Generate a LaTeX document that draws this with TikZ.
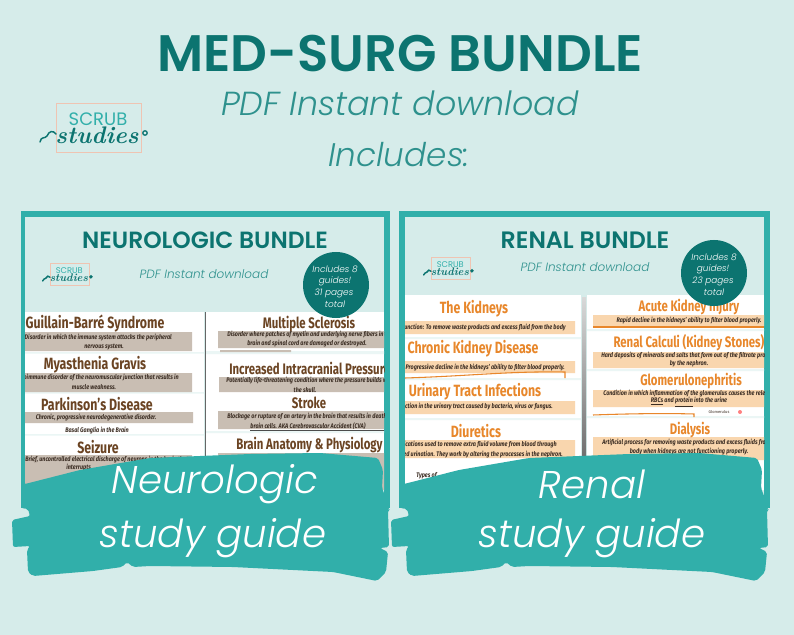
\documentclass[tikz,border=0pt]{standalone}
\usepackage{fontspec}
\setmainfont{Fira Sans}
\newfontfamily\pop{Poppins SemiBold}
\newfontfamily\popr{Poppins}
\newfontfamily\popl{Poppins Light}[ItalicFont={Poppins Light Italic}]
\definecolor{bgc}{HTML}{D6ECEA}
\definecolor{dteal}{HTML}{0C7470}
\definecolor{frame}{HTML}{31AFAA}
\definecolor{midt}{HTML}{2E918D}
\definecolor{gband}{HTML}{C9BEB3}
\definecolor{brownc}{HTML}{6B4423}
\definecolor{oband}{HTML}{F9D6AE}
\definecolor{orangec}{HTML}{E8872B}
\definecolor{inkc}{HTML}{3C2E24}
\definecolor{peach}{HTML}{EFC4B2}
\newcommand\tn[1]{\scalebox{.76}[1]{#1}}
\newcommand\tm[1]{\scalebox{.75}[1]{#1}}
\newcommand\bt[1]{\scalebox{.82}[1]{#1}}
\newcommand\ctitle[5]{\node[text=#5,inner sep=0pt,font=\bfseries\fontsize{#1}{#1}\selectfont] at #2 (#3) {\tn{#4}};}
\newcommand\ctitleb[4]{\node[text=#4,inner sep=0pt,font=\bfseries\fontsize{11.4}{11.4}\selectfont] at #1 (#2) {\tm{#3}};}
\tikzset{bodyt/.style={text=inkc,font=\itshape\bfseries\fontsize{5}{5}\selectfont,inner sep=0pt},
  infot/.style={text=white,font=\popl\itshape\fontsize{6.7}{6.7}\selectfont,inner sep=0pt},
  bigt/.style={text=white,font=\popl\itshape\fontsize{29}{29}\selectfont,inner sep=0pt}}
\newcommand\logo[3]{\begin{scope}[shift={#2},scale=#3,transform shape]
  \draw[peach,line width=.7pt] (0,0) rectangle (85,49);
  \node[text=frame,font=\popr\fontsize{13.5}{13.5}\selectfont,inner sep=0pt] (#1s) at (42,16) {SCRUB};
  \node[text=dteal,font=\fontspec{Latin Modern Roman}\itshape\bfseries\fontsize{18}{18}\selectfont,inner sep=0pt] (#1t) at (41,32) {studies};
  \draw[dteal,line width=1.1pt,line cap=round] (-16,39) .. controls (-15,33) and (-11,36) .. (-9,33) .. controls (-7,28) and (-3,27) .. (0,31);
  \draw[dteal,line width=1pt] (89,30) circle (2.2);
\end{scope}}
\newcommand\brush[1]{\fill[frame,shift={(#1,0)},rounded corners=1.5pt]
 (21,484)--(25,484)--(80,470)--(150,458)--(250,454)--(320,453)--(378,458)--(383,470)--(382,488)--(390,509)--(388,510)--(389,547)--(380,548)--(388,552)--(386,572)--(377,581)--(333,572)--(233,567)--(150,566)--(133,567)--(127,562)--(122,567)--(93,571)--(33,576)--(28,572)--(27,550)--(30,546)--(13,547)--(12,520)--(30,516)--(28,509)--(21,508)--cycle;}
\begin{document}
\begin{tikzpicture}[x=.75pt,y=-.75pt]
\useasboundingbox (0,0) rectangle (794,635);
\fill[bgc] (0,0) rectangle (794,635);
\node[text=dteal,font=\pop\fontsize{38.5}{38.5}\selectfont,inner sep=0pt] (title) at (400,54) {MED-SURG BUNDLE};
\node[text=midt,font=\popl\itshape\fontsize{25}{25}\selectfont,inner sep=0pt] (sub) at (400,103) {PDF Instant download};
\node[text=midt,font=\popl\itshape\fontsize{24.5}{24.5}\selectfont,inner sep=0pt] (incl) at (399,155) {Includes:};
\logo{a}{(56,103)}{1}
% ---------- left panel
\fill[frame] (21,211) rectangle (390,508);
\fill[bgc] (25,217) rectangle (384,508);
\begin{scope}
\clip (25,217) rectangle (384,508);
\fill[white] (25,312) rectangle (204,490);
\fill[white] (206,312) rectangle (384,490);
\fill[black!60] (204.5,312) rectangle (205.5,490);
\fill[bgc!50!white] (25,352) rectangle (204,353.5) (25,392) rectangle (204,393.5) (25,434) rectangle (204,435.5) (206,351) rectangle (384,354) (206,431) rectangle (384,433);
\fill[gband] (25,332) rectangle (192,351) (25,373) rectangle (192,392) (25,412) rectangle (193,423) (25,455) rectangle (192,490);
\fill[gband] (218,331) rectangle (384,348) (220,350) rectangle (291,352) (219,377) rectangle (384,392) (218,411) rectangle (384,429) (218,453) rectangle (384,490);
\fill[black!70] (250,429.5) rectangle (384,430.5);
\ctitle{12.2}{(95,324)}{n1}{Guillain-Barré Syndrome}{brownc}
\ctitle{12.2}{(95,365)}{n2}{Myasthenia Gravis}{brownc}
\ctitle{12.2}{(97,404)}{n3}{Parkinson's Disease}{brownc}
\ctitle{12.2}{(98,447)}{n4}{Seizure}{brownc}
\ctitleb{(309,324)}{n5}{Multiple Sclerosis}{brownc}
\node[anchor=west,text=brownc,font=\bfseries\fontsize{11.4}{11.4}\selectfont,inner sep=0pt] (n6) at (229,368) {\tm{Increased Intracranial Pressure}};
\ctitleb{(309,403)}{n7}{Stroke}{brownc}
\node[anchor=west,text=brownc,font=\bfseries\fontsize{11.4}{11.4}\selectfont,inner sep=0pt] (n8) at (236,445) {\tm{Brain Anatomy \& Physiology}};
\node[bodyt,anchor=east] (b1) at (172,338) {\bt{Disorder in which the immune system attacks the peripheral}};
\node[bodyt] (b2) at (104,347) {\bt{nervous system.}};
\node[bodyt,anchor=east] (b3) at (179,378) {\bt{Autoimmune disorder of the neuromuscular junction that results in}};
\node[bodyt] (b4) at (94,387) {\bt{muscle weakness.}};
\node[bodyt] (b5) at (96,417.5) {\bt{Chronic, progressive neurodegenerative disorder.}};
\node[bodyt] (b6) at (97,431) {\bt{Basal Ganglia in the Brain}};
\node[bodyt,anchor=west] (b7) at (25,460) {\bt{Brief, uncontrolled electrical discharge of neurons in the brain that}};
\node[bodyt,anchor=west] (b8) at (66,468) {\bt{interrupts}};
\node[bodyt,anchor=west] (b9) at (227,335) {\bt{Disorder where patches of myelin and underlying nerve fibers in the}};
\node[bodyt] (b10) at (307,344) {\bt{brain and spinal cord are damaged or destroyed.}};
\node[bodyt,anchor=west] (b11) at (226,381) {\bt{Potentially life-threatening condition where the pressure builds within}};
\node[bodyt] (b12) at (305,390) {\bt{the skull.}};
\node[bodyt,anchor=west] (b13) at (227,417) {\bt{Blockage or rupture of an artery in the brain that results in death of}};
\node[bodyt] (b14) at (308,426) {\bt{brain cells. AKA Cerebrovascular Accident (CVA)}};
\end{scope}
\node[text=dteal,font=\pop\fontsize{17.6}{17.6}\selectfont,inner sep=0pt] (h1) at (205,240) {NEUROLOGIC BUNDLE};
\node[text=midt,font=\popl\itshape\fontsize{9}{9}\selectfont,inner sep=0pt] (p1) at (204,274) {PDF Instant download};
\logo{b}{(50,263)}{0.46}
\fill[dteal] (336,285) circle (33);
\node[infot] (i1) at (335,269.5) {Includes 8};
\node[infot] (i2) at (335,281) {guides!};
\node[infot] (i3) at (334,293) {31 pages};
\node[infot] (i4) at (335,304.5) {total};
% ---------- right panel
\fill[frame] (399,211) rectangle (770,508);
\fill[bgc] (405,217) rectangle (764,508);
\begin{scope}
\clip (405,217) rectangle (764,508);
\fill[white] (405,295) rectangle (581,490);
\fill[white] (587,295) rectangle (764,490);
\shade[top color=gray!30,bottom color=black!65] (582,297) rectangle (586,490);
\fill[bgc!50!white] (405,337) rectangle (581,339) (405,378) rectangle (581,380) (405,418) rectangle (581,420) (587,329) rectangle (764,331) (587,369) rectangle (764,371) (587,416) rectangle (764,418);
\fill[oband] (405,321) rectangle (575,334) (405,361) rectangle (575,373) (405,401) rectangle (575,414) (405,440) rectangle (575,458);
\fill[oband] (593,315) rectangle (764,326) (593,352) rectangle (764,368) (593,390) rectangle (764,407) (593,437) rectangle (764,460);
\draw[orangec,line width=.8pt] (405,378) .. controls (470,376) and (510,371) .. (565,372) -- (565,378);
\draw[orangec,line width=.8pt] (593,327) -- (764,327);
\draw[orangec,line width=.8pt] (593,415) .. controls (620,414) and (660,413) .. (694,414) -- (694,417);
\ctitle{12.2}{(474,309)}{r1}{The Kidneys}{orangec}
\ctitle{12.2}{(473,349)}{r2}{Chronic Kidney Disease}{orangec}
\ctitle{12.2}{(475,392)}{r3}{Urinary Tract Infections}{orangec}
\ctitle{12.2}{(476,431)}{r4}{Diuretics}{orangec}
\ctitleb{(689,307)}{r5}{Acute Kidney Injury}{orangec}
\ctitleb{(689,343)}{r6}{Renal Calculi (Kidney Stones)}{orangec}
\ctitleb{(691,381)}{r7}{Glomerulonephritis}{orangec}
\ctitleb{(690,430)}{r8}{Dialysis}{orangec}
\node[bodyt,anchor=east] (c1) at (566,327.5) {\bt{Function: To remove waste products and excess fluid from the body}};
\node[bodyt,anchor=east] (c2) at (565,367.5) {\bt{Progressive decline in the kidneys' ability to filter blood properly.}};
\node[bodyt,anchor=east] (c3) at (553,407) {\bt{Infection in the urinary tract caused by bacteria, virus or fungus.}};
\node[bodyt,anchor=east] (c4) at (557,445) {\bt{Medications used to remove extra fluid volume from blood through}};
\node[bodyt,anchor=east] (c5) at (563,455) {\bt{increased urination. They work by altering the processes in the nephron.}};
\node[bodyt,anchor=east] (c6) at (437,476) {\bt{Types of}};
\node[bodyt] (c7) at (689,321) {\bt{Rapid decline in the kidneys' ability to filter blood properly.}};
\node[bodyt,anchor=west] (c8) at (601,356) {\bt{Hard deposits of minerals and salts that form out of the filtrate produced}};
\node[bodyt] (c9) at (689,364) {\bt{by the nephron.}};
\node[bodyt,anchor=west] (c10) at (603,394) {\bt{Condition in which inflammation of the glomerulus causes the release of}};
\node[bodyt] (c11) at (689,402) {\bt{\underline{RBCs} and \underline{protein} into the urine}};
\node[bodyt,anchor=west] (c12) at (602,443) {\bt{Artificial process for removing waste products and excess fluids from the}};
\node[bodyt] (c13) at (689,452) {\bt{body when kidneys are not functioning properly.}};
\node[text=inkc,font=\fontsize{3}{3}\selectfont,inner sep=0pt] (c14) at (719,412) {Glomerulus};
\fill[red!50] (740,412) circle (2);
\end{scope}
\node[text=dteal,font=\pop\fontsize{17.8}{17.8}\selectfont,inner sep=0pt] (h2) at (585,240) {RENAL BUNDLE};
\node[text=midt,font=\popl\itshape\fontsize{9}{9}\selectfont,inner sep=0pt] (p2) at (585,267) {PDF Instant download};
\logo{c}{(431,257)}{0.46}
\fill[dteal] (714,273) circle (33);
\node[infot] (j1) at (714,257) {Includes 8};
\node[infot] (j2) at (713,269) {guides!};
\node[infot] (j3) at (713,281) {23 pages};
\node[infot] (j4) at (714,292) {total};
% ---------- brushes
\brush{0}
\brush{379}
\node[bigt] (l1) at (215,484) {Neurologic};
\node[bigt] (l2) at (213,538) {study guide};
\node[bigt] (l3) at (592,484) {Renal};
\node[bigt] (l4) at (592,538) {study guide};
\end{tikzpicture}
\end{document}
